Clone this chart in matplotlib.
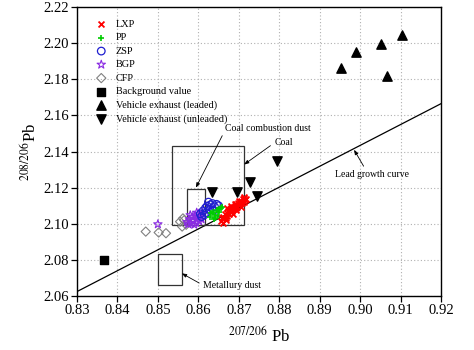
import matplotlib
matplotlib.use("Agg")
import matplotlib.pyplot as plt
from matplotlib.patches import Rectangle

plt.rcParams['font.family'] = ['Liberation Serif', 'DejaVu Serif']
plt.rcParams['mathtext.fontset'] = 'stix'

# ---- data ----
lxp_x = [0.8655, 0.8658, 0.8662, 0.8660, 0.8665, 0.8668, 0.8670, 0.8672, 0.8674, 0.8676,
         0.8678, 0.8680, 0.8682, 0.8684, 0.8686, 0.8688, 0.8690, 0.8692, 0.8694, 0.8696,
         0.8698, 0.8700, 0.8702, 0.8704, 0.8706, 0.8708, 0.8710, 0.8712, 0.8714, 0.8716,
         0.8700, 0.8690, 0.8680, 0.8672, 0.8706, 0.8694, 0.8685, 0.8712, 0.8718, 0.8668]
lxp_y = [2.1015, 2.1030, 2.1040, 2.1005, 2.1052, 2.1035, 2.1060, 2.1045, 2.1070, 2.1055,
         2.1080, 2.1065, 2.1090, 2.1072, 2.1095, 2.1082, 2.1100, 2.1088, 2.1108, 2.1095,
         2.1115, 2.1102, 2.1120, 2.1108, 2.1128, 2.1115, 2.1135, 2.1122, 2.1145, 2.1130,
         2.1125, 2.1112, 2.1100, 2.1085, 2.1095, 2.1075, 2.1055, 2.1150, 2.1140, 2.1020]

pp_x = [0.8632, 0.8636, 0.8640, 0.8645, 0.8650, 0.8655, 0.8642, 0.8648, 0.8638, 0.8652, 0.8658, 0.8628]
pp_y = [2.1060, 2.1068, 2.1050, 2.1075, 2.1082, 2.1088, 2.1035, 2.1045, 2.1028, 2.1065, 2.1092, 2.1040]

zsp_x = [0.8605, 0.8612, 0.8618, 0.8622, 0.8630, 0.8635, 0.8645, 0.8640, 0.8628, 0.8620,
         0.8615, 0.8650, 0.8608, 0.8625, 0.8638]
zsp_y = [2.1055, 2.1072, 2.1088, 2.1098, 2.1105, 2.1112, 2.1108, 2.1095, 2.1080, 2.1062,
         2.1050, 2.1100, 2.1040, 2.1120, 2.1075]

bgp_x = [0.8572, 0.8578, 0.8582, 0.8585, 0.8588, 0.8592, 0.8595, 0.8598, 0.8600, 0.8602,
         0.8605, 0.8608, 0.8590, 0.8580, 0.8610, 0.8575, 0.8596, 0.8500]
bgp_y = [2.1010, 2.1025, 2.1002, 2.1038, 2.1018, 2.1045, 2.1005, 2.1030, 2.1055, 2.1015,
         2.1042, 2.1025, 2.0995, 2.1048, 2.1060, 2.0998, 2.1062, 2.0998]

cfp_x = [0.8470, 0.8502, 0.8520, 0.8555, 0.8560, 0.8565, 0.8570, 0.8562, 0.8575]
cfp_y = [2.0957, 2.0952, 2.0948, 2.1012, 2.0985, 2.1020, 2.0995, 2.1030, 2.1010]

bg_x = [0.8368]
bg_y = [2.0800]

leaded_x = [0.8952, 0.8990, 0.9052, 0.9104, 0.9066]
leaded_y = [2.1861, 2.1950, 2.1994, 2.2044, 2.1820]

unleaded_x = [0.8795, 0.8728, 0.8634, 0.8695, 0.8744]
unleaded_y = [2.1350, 2.1232, 2.1174, 2.1174, 2.1154]

growth_x = [0.83, 0.92]
growth_y = [2.0625, 2.1665]

# boxes: (x0, x1, y0, y1)
coal_box = (0.8535, 0.8712, 2.0995, 2.1428)
ccd_box = (0.8573, 0.8616, 2.0995, 2.1195)
met_box = (0.8501, 0.8559, 2.0660, 2.0832)

xticks = [0.83, 0.84, 0.85, 0.86, 0.87, 0.88, 0.89, 0.90, 0.91, 0.92]
yticks = [2.06, 2.08, 2.10, 2.12, 2.14, 2.16, 2.18, 2.20, 2.22]

# ---- figure ----
fig = plt.figure(figsize=(4.74, 3.5), dpi=100)
ax = fig.add_axes([0.1624, 0.154, 0.7680, 0.826])

ax.grid(True, color='#b0b0b0', linestyle=(0, (1, 2)), linewidth=0.8)
ax.set_axisbelow(True)

ax.plot(growth_x, growth_y, color='black', lw=0.9, zorder=2)
for (x0, x1, y0, y1) in (coal_box, ccd_box, met_box):
    ax.add_patch(Rectangle((x0, y0), x1 - x0, y1 - y0, fill=False,
                           edgecolor='#333333', lw=0.9, zorder=2))

ax.scatter(cfp_x, cfp_y, marker='D', s=22, facecolors='none', edgecolors='#808080', lw=0.8, label='CFP', zorder=3)
ax.scatter(bgp_x, bgp_y, marker='*', s=40, facecolors='none', edgecolors='#8a2be2', lw=0.8, label='BGP', zorder=3)
ax.scatter(zsp_x, zsp_y, marker='o', s=30, facecolors='none', edgecolors='#1f1fd0', lw=0.9, label='ZSP', zorder=3)
ax.scatter(pp_x, pp_y, marker='+', s=25, color='#00cc00', lw=1.2, label='PP', zorder=4)
ax.scatter(lxp_x, lxp_y, marker='x', s=18, color='red', lw=1.3, label='LXP', zorder=4)
ax.scatter(bg_x, bg_y, marker='s', s=30, color='black', label='Background value', zorder=3)
ax.scatter(leaded_x, leaded_y, marker='^', s=45, color='black', label='Vehicle exhaust (leaded)', zorder=3)
ax.scatter(unleaded_x, unleaded_y, marker='v', s=45, color='black', label='Vehicle exhaust (unleaded)', zorder=3)

handles, labels = ax.get_legend_handles_labels()
order = ['LXP', 'PP', 'ZSP', 'BGP', 'CFP', 'Background value',
         'Vehicle exhaust (leaded)', 'Vehicle exhaust (unleaded)']
hmap = dict(zip(labels, handles))
ax.legend([hmap[o] for o in order], order, loc='upper left', frameon=False,
          fontsize=7.4, labelspacing=0.42, handletextpad=0.9, borderaxespad=0.4,
          bbox_to_anchor=(0.03, 0.985), handlelength=1.0)

ap = dict(arrowstyle='-|>,head_length=0.4,head_width=0.15', color='black', lw=0.6)
ax.annotate('Coal combustion dust', xy=(0.8594, 2.1200), xytext=(0.8666, 2.1528),
            fontsize=7, ha='left', va='center', arrowprops=dict(ap, shrinkA=0, shrinkB=0, relpos=(0, 0.3)))
ax.annotate('Coal', xy=(0.8713, 2.1328), xytext=(0.8788, 2.1448),
            fontsize=7, ha='left', va='center', arrowprops=dict(ap, shrinkA=1, shrinkB=0, relpos=(0, 0.5)))
ax.annotate('Lead growth curve', xy=(0.8985, 2.1410), xytext=(0.9029, 2.1272),
            fontsize=7, ha='center', va='center', arrowprops=dict(ap, shrinkA=1, shrinkB=0, relpos=(0.42, 1)))
ax.annotate('Metallury dust', xy=(0.8559, 2.0726), xytext=(0.8612, 2.0660),
            fontsize=7, ha='left', va='center', arrowprops=dict(ap, shrinkA=1, shrinkB=0, relpos=(0, 0.5)))

ax.set_xlim(0.83, 0.92)
ax.set_ylim(2.06, 2.22)
ax.set_xticks(xticks)
ax.set_yticks(yticks)
ax.set_xticklabels([f'{v:.2f}' for v in xticks])
ax.set_yticklabels([f'{v:.2f}' for v in yticks])
ax.tick_params(direction='out', length=4, width=0.9, labelsize=10.5, pad=2)
for s in ax.spines.values():
    s.set_linewidth(1.0)

ax.set_xlabel(r'$^{207/206}$ Pb', fontsize=12, labelpad=6)
ax.set_ylabel(r'$^{208/206}$Pb', fontsize=12, labelpad=2)

fig.savefig('out.png', dpi=100)
